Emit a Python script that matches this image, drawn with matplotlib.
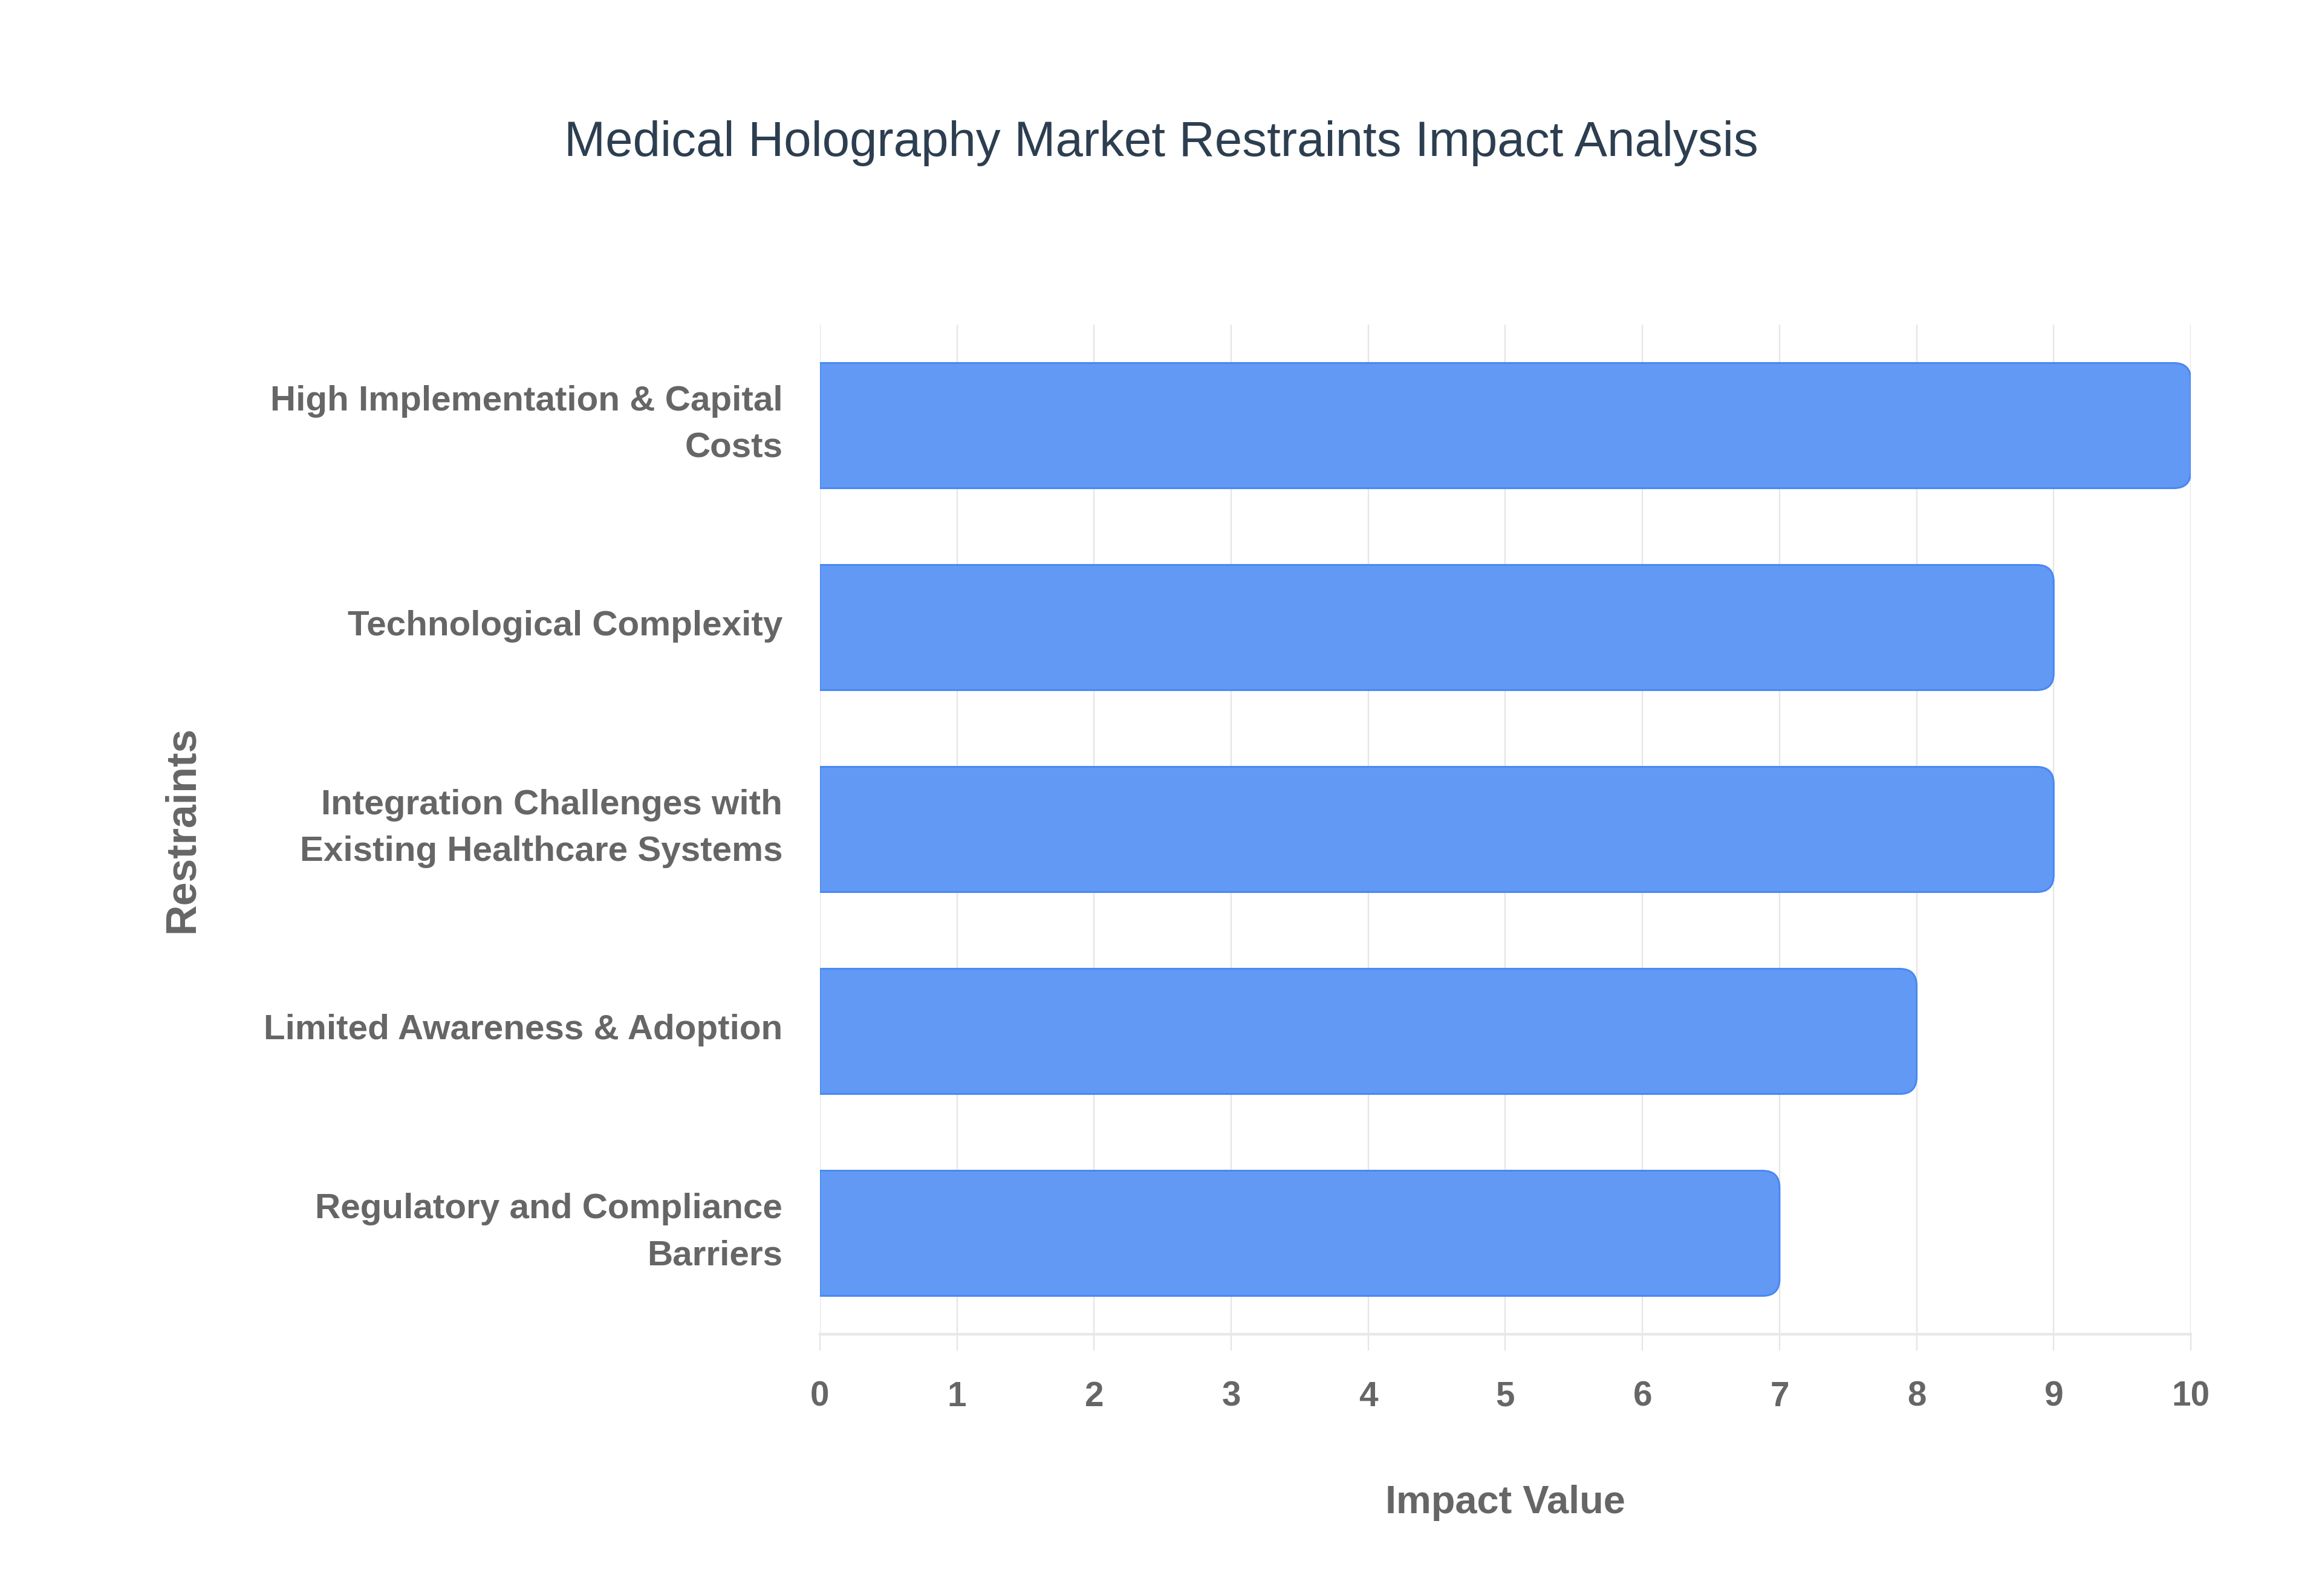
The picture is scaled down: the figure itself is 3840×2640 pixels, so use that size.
import textwrap
import numpy as np
import matplotlib
matplotlib.use("Agg")
import matplotlib.pyplot as plt
import matplotlib.transforms as mtransforms
from matplotlib.path import Path
from matplotlib.patches import PathPatch

# data (top to bottom)
restraints = [
    "High Implementation & Capital Costs",
    "Technological Complexity",
    "Integration Challenges with Existing Healthcare Systems",
    "Limited Awareness & Adoption",
    "Regulatory and Compliance Barriers",
]
impact = [10, 9, 9, 8, 7]
x_ticks = list(range(0, 11))

plt.rcParams["font.family"] = ["Liberation Sans", "DejaVu Sans"]

grid_col = "#e6e6e6"
text_col = "#666666"
fill_col = "#6199f5"
edge_col = "#4a88f2"

fig = plt.figure(figsize=(16, 11), dpi=240)
ax = fig.add_axes([0.3531, 0.164, 0.5904, 0.6326])

n = len(restraints)
ax.set_xlim(0, 10)
ax.set_ylim(n - 0.5, -0.5)

# rounded right end, radius given in pixels
bar_h = 0.62
radius_px = 28
rx = radius_px * 10 / ax.bbox.width
ry = radius_px * n / ax.bbox.height

for i, v in enumerate(impact):
    y0, y1 = i - bar_h / 2, i + bar_h / 2
    verts = [(0, y0), (v - rx, y0), (v, y0), (v, y0 + ry),
             (v, y1 - ry), (v, y1), (v - rx, y1), (0, y1), (0, y0)]
    codes = [Path.MOVETO, Path.LINETO, Path.CURVE3, Path.CURVE3,
             Path.LINETO, Path.CURVE3, Path.CURVE3, Path.LINETO, Path.CLOSEPOLY]
    ax.add_patch(PathPatch(Path(verts, codes), facecolor=fill_col,
                           edgecolor=edge_col, linewidth=0.9, zorder=3))

ax.set_xticks(x_ticks)
ax.set_xticklabels([str(t) for t in x_ticks], fontsize=17,
                   fontweight="bold", color=text_col)
ax.set_yticks(np.arange(n))
ax.set_yticklabels([])

# category labels as plain text so they can sit a bit higher
ytrans = ax.get_yaxis_transform()
for i, r in enumerate(restraints):
    lab = textwrap.fill(r, 30)
    up = 0.7 if "\n" not in lab else 0.4
    off = mtransforms.ScaledTranslation(-18.5 / 72, up / 72, fig.dpi_scale_trans)
    ax.text(0, i, lab, transform=ytrans + off, ha="right", va="center",
            multialignment="right", fontsize=17.5, fontweight="bold",
            color=text_col, linespacing=1.55)

ax.grid(axis="x", color=grid_col, linewidth=0.7, zorder=0)
ax.set_axisbelow(True)
ax.tick_params(axis="x", length=8, width=0.7, color=grid_col, pad=15)
ax.tick_params(axis="y", length=0)

for s in ["top", "right", "left"]:
    ax.spines[s].set_visible(False)
ax.spines["bottom"].set_color("#e8e8e8")
ax.spines["bottom"].set_linewidth(1.3)

ax.set_xlabel("Impact Value", fontsize=19.5, fontweight="bold", color=text_col)
ax.xaxis.label.set_va("baseline")
ax.xaxis.set_label_coords(0.5, -0.177)
ax.set_ylabel("Restraints", fontsize=21, fontweight="bold", color=text_col)
ax.yaxis.label.set_va("center")
ax.yaxis.set_label_coords(-0.465, 0.5)

fig.text(0.5, 1 - 258 / 2640, "Medical Holography Market Restraints Impact Analysis",
         ha="center", va="baseline", fontsize=24.5, color="#2c3e50")

fig.savefig("out.png", dpi=240, facecolor="white")
